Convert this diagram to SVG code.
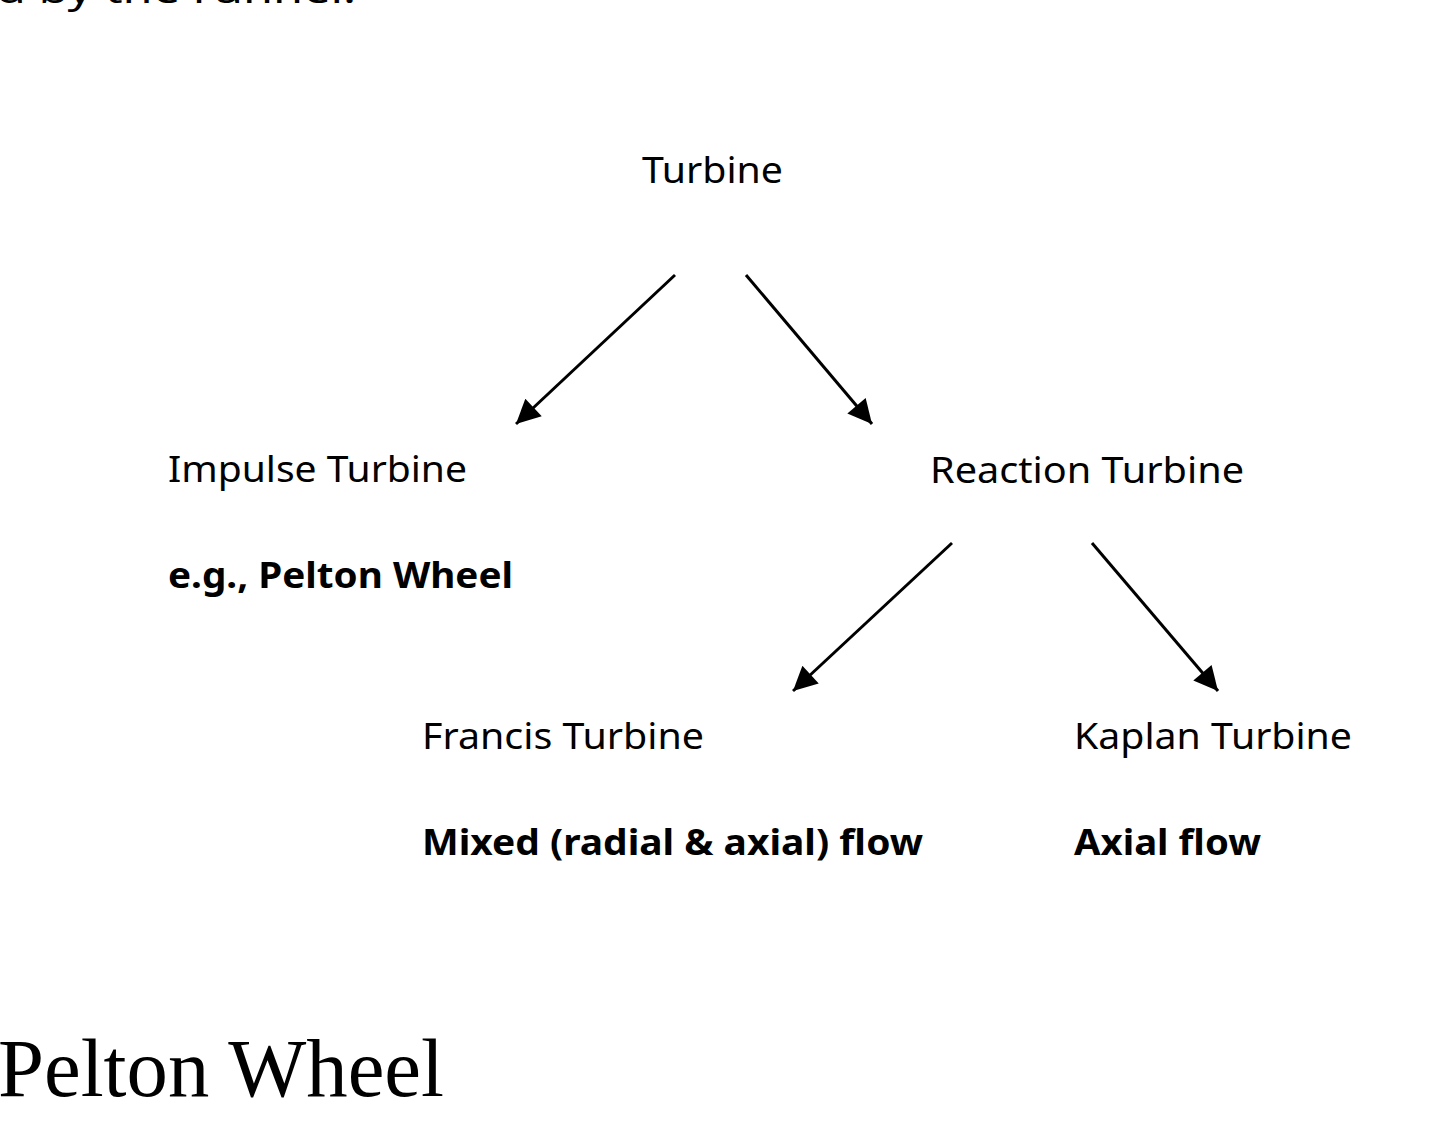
<svg xmlns="http://www.w3.org/2000/svg" width="1456" height="1137" viewBox="0 0 1456 1137">
<style>
.t{font-family:"Noto Sans","Open Sans","Liberation Sans",sans-serif;font-size:36px;fill:#000}
.b{font-weight:bold}
.s{font-family:"Liberation Serif","Times New Roman",serif;font-size:83px;fill:#000}
.c{stroke:#000;stroke-width:3;fill:none}
</style>
<defs>
<marker id="ah" viewBox="0 0 10 10" refX="10" refY="5" markerUnits="userSpaceOnUse" markerWidth="28" markerHeight="24" orient="auto">
<path d="M0,0 L10,5 L0,10 Z" fill="#000"/>
</marker>
</defs>
<rect width="1456" height="1137" fill="#fff"/>
<text class="t" x="-4" y="3" textLength="360" lengthAdjust="spacingAndGlyphs">d by the runner.</text>
<g id="turbine"><text class="t" x="642" y="183" textLength="141" lengthAdjust="spacingAndGlyphs">Turbine</text></g>
<g id="impulse">
<text class="t" x="168" y="482" textLength="299" lengthAdjust="spacingAndGlyphs">Impulse Turbine</text>
<text class="t b" x="168" y="588" textLength="345" lengthAdjust="spacingAndGlyphs">e.g., Pelton Wheel</text>
</g>
<g id="reaction"><text class="t" x="930" y="483" textLength="314" lengthAdjust="spacingAndGlyphs">Reaction Turbine</text></g>
<g id="francis">
<text class="t" x="422" y="749" textLength="282" lengthAdjust="spacingAndGlyphs">Francis Turbine</text>
<text class="t b" x="422" y="855" textLength="501" lengthAdjust="spacingAndGlyphs">Mixed (radial &amp; axial) flow</text>
</g>
<g id="kaplan">
<text class="t" x="1074" y="749" textLength="278" lengthAdjust="spacingAndGlyphs">Kaplan Turbine</text>
<text class="t b" x="1074" y="855" textLength="187" lengthAdjust="spacingAndGlyphs">Axial flow</text>
</g>
<g id="connectors">
<line class="c" x1="675" y1="275" x2="516" y2="424" marker-end="url(#ah)"/>
<line class="c" x1="746" y1="275" x2="872" y2="424" marker-end="url(#ah)"/>
<line class="c" x1="952" y1="543" x2="793" y2="691" marker-end="url(#ah)"/>
<line class="c" x1="1092" y1="543" x2="1218" y2="691" marker-end="url(#ah)"/>
</g>
<text class="s" x="-2" y="1096" textLength="446" lengthAdjust="spacingAndGlyphs">Pelton Wheel</text>
</svg>
